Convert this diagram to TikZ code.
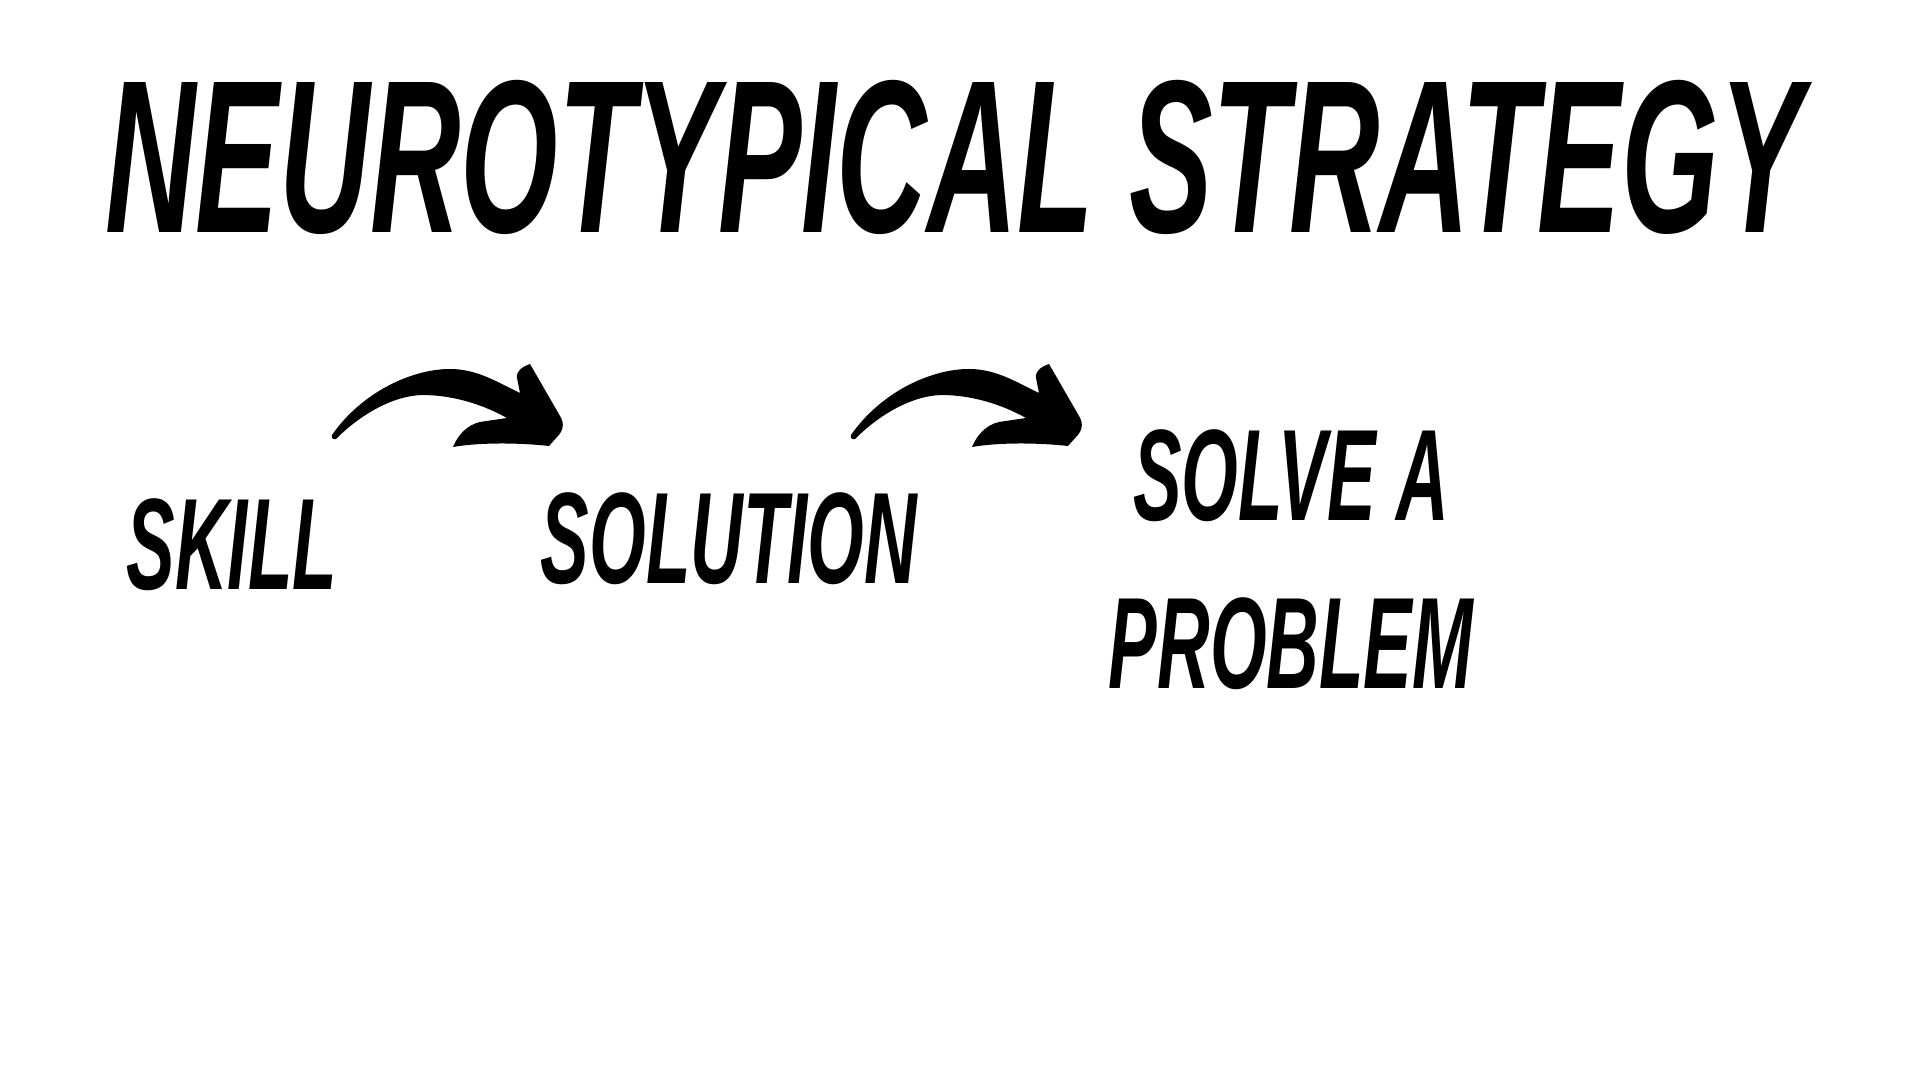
\documentclass[tikz,border=0pt]{standalone}
\usepackage{fontspec}
\newfontfamily\headfont[FakeStretch=0.575]{Liberation Sans}
\newfontfamily\wordfont[FakeStretch=0.56]{Liberation Sans}
\begin{document}
\begin{tikzpicture}[x=0.01cm, y=-0.01cm,
    heading/.style={
            inner sep=0pt,
            font=\headfont\bfseries\itshape\fontsize{62}{62}\selectfont
          },
    word/.style={
            inner sep=0pt,
            font=\wordfont\bfseries\itshape\fontsize{37}{37}\selectfont
          },
    bigarrow/.pic={
        % shaft and head in one filled outline
        \fill (0,-2) .. controls (30,-45) and (80,-68) .. (118,-68)
            .. controls (145,-68) and (165,-55) .. (188,-44)
            -- (185,-59) .. controls (184,-66) and (190,-70) .. (198,-73)
            -- (228,-21) .. controls (233,-13) and (231,-6) .. (225,0)
            -- (217,9) .. controls (190,6) and (150,5) .. (121,10)
            .. controls (126,-2) and (135,-12) .. (148,-15)
            -- (175,-19) .. controls (150,-33) and (120,-42) .. (90,-42)
            .. controls (60,-41) and (28,-22) .. (4,2)
            .. controls (1,3) and (-1,1) .. (0,-2) -- cycle;
      }]
    \fill[white] (0,0) rectangle (1920,1080);
    \useasboundingbox (0,0) rectangle (1920,1080);

    \node[heading] (title) at (954,157) {NEUROTYPICAL STRATEGY};

    \node[word] (skill) at (232,545) {SKILL};
    \node[word] (solution) at (729,539) {SOLUTION};
    \node[word] (solve) at (1291,476) {SOLVE A};
    \node[word] (problem) at (1291,644) {PROBLEM};

    % arrows between the words
    \pic at (332,437) {bigarrow};
    \pic at (851,437) {bigarrow};

\end{tikzpicture}
\end{document}
